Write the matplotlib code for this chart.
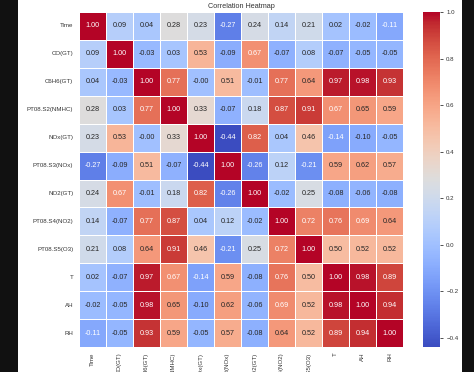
#!/usr/bin/env python3

import numpy as np
import seaborn as sns
from matplotlib import pyplot as plt
from matplotlib.patches import Rectangle

# Variable names of the air quality data.
labels = ['Time', 'CO(GT)', 'C6H6(GT)', 'PT08.S2(NMHC)', 'NOx(GT)',
          'PT08.S3(NOx)', 'NO2(GT)', 'PT08.S4(NO2)', 'PT08.S5(O3)',
          'T', 'AH', 'RH']

# Correlation rows.
r_time = [1.00, 0.09, 0.04, 0.28, 0.23, -0.27, 0.24, 0.14, 0.21, 0.02, -0.02, -0.11]
r_co = [0.09, 1.00, -0.03, 0.03, 0.53, -0.09, 0.67, -0.07, 0.08, -0.07, -0.05, -0.05]
r_c6h6 = [0.04, -0.03, 1.00, 0.77, -0.00, 0.51, -0.01, 0.77, 0.64, 0.97, 0.98, 0.93]
r_s2 = [0.28, 0.03, 0.77, 1.00, 0.33, -0.07, 0.18, 0.87, 0.91, 0.67, 0.65, 0.59]
r_nox = [0.23, 0.53, -0.00, 0.33, 1.00, -0.44, 0.82, 0.04, 0.46, -0.14, -0.10, -0.05]
r_s3 = [-0.27, -0.09, 0.51, -0.07, -0.44, 1.00, -0.26, 0.12, -0.21, 0.59, 0.62, 0.57]
r_no2 = [0.24, 0.67, -0.01, 0.18, 0.82, -0.26, 1.00, -0.02, 0.25, -0.08, -0.06, -0.08]
r_s4 = [0.14, -0.07, 0.77, 0.87, 0.04, 0.12, -0.02, 1.00, 0.72, 0.76, 0.69, 0.64]
r_s5 = [0.21, 0.08, 0.64, 0.91, 0.46, -0.21, 0.25, 0.72, 1.00, 0.50, 0.52, 0.52]
r_t = [0.02, -0.07, 0.97, 0.67, -0.14, 0.59, -0.08, 0.76, 0.50, 1.00, 0.98, 0.89]
r_ah = [-0.02, -0.05, 0.98, 0.65, -0.10, 0.62, -0.06, 0.69, 0.52, 0.98, 1.00, 0.94]
r_rh = [-0.11, -0.05, 0.93, 0.59, -0.05, 0.57, -0.08, 0.64, 0.52, 0.89, 0.94, 1.00]

corr = np.array([r_time, r_co, r_c6h6, r_s2, r_nox, r_s3, r_no2, r_s4,
                 r_s5, r_t, r_ah, r_rh])

sns.set_theme(style='white')
plt.rcParams['font.family'] = ['Liberation Sans', 'DejaVu Sans']

W, H = 474, 372
fig = plt.figure(figsize=(W / 100, H / 100), dpi=100)
fig.patch.set_facecolor('#111111')
# White page inside the dark frame, kept behind the axes.
fig.patches.append(Rectangle((18 / W, 0), 444 / W, 1, transform=fig.transFigure,
                             facecolor='white', edgecolor='none', zorder=-10))

ax = fig.add_axes([79 / W, 1 - 347 / H, 324 / W, 335 / H])
cax = fig.add_axes([423 / W, 1 - 347 / H, 17 / W, 335 / H])

sns.heatmap(corr, ax=ax, cbar_ax=cax, cmap='coolwarm', annot=True, fmt='.2f',
            linewidths=0.5, linecolor='white',
            xticklabels=labels, yticklabels=labels,
            annot_kws={'fontsize': 5.2})

ax.set_title('Correlation Heatmap', fontsize=5.2, color='#333333', pad=3)
ax.tick_params(axis='both', length=0, labelsize=4.4, colors='#333333', pad=4)
ax.set_xticklabels(labels, rotation=90)
ax.set_yticklabels(labels, rotation=0)

cax.tick_params(labelsize=4.4, length=2.5, width=0.6, colors='#333333', pad=2)
cax.set_yticks([-0.4, -0.2, 0.0, 0.2, 0.4, 0.6, 0.8, 1.0])

plt.savefig('out.png', dpi=100, facecolor=fig.get_facecolor())
